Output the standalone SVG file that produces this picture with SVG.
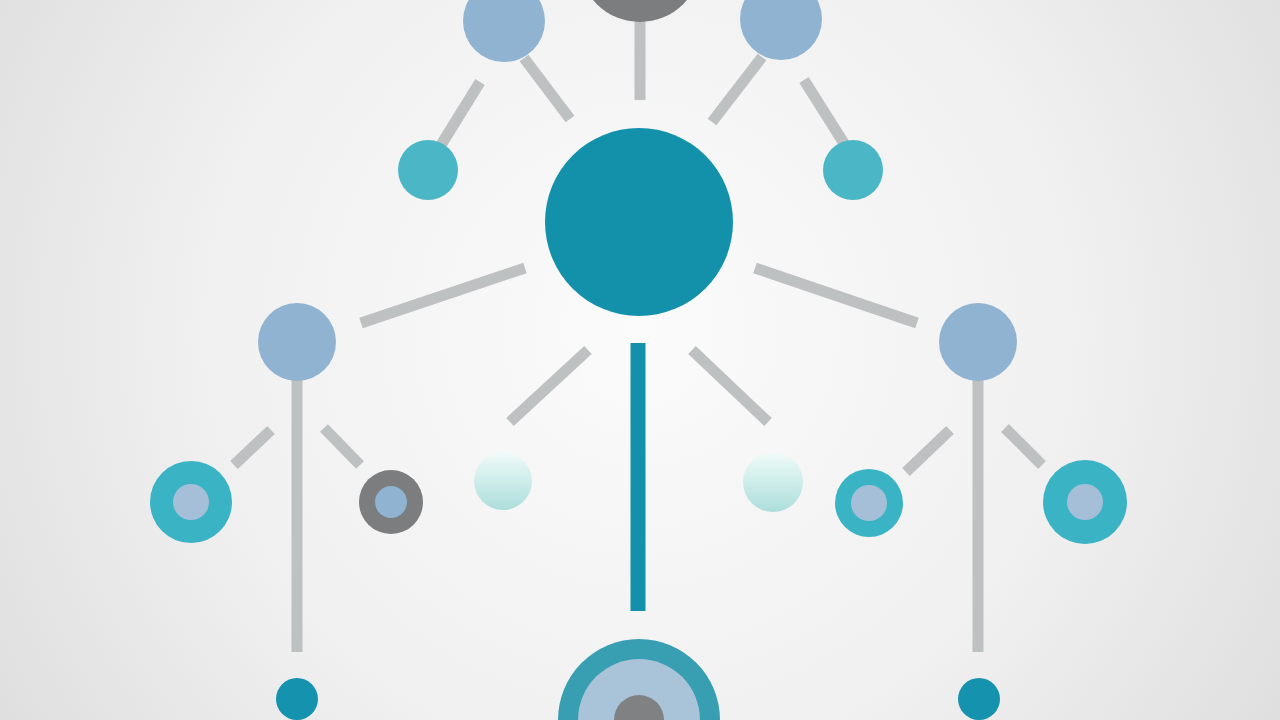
<svg xmlns="http://www.w3.org/2000/svg" width="1280" height="720" viewBox="0 0 1280 720">
  <defs>
    <radialGradient id="bg" cx="640" cy="330" r="800" gradientUnits="userSpaceOnUse">
      <stop offset="0" stop-color="#fbfbfb"/>
      <stop offset="0.55" stop-color="#f0f0f0"/>
      <stop offset="1" stop-color="#dcdcdc"/>
    </radialGradient>
    <linearGradient id="fade" x1="0" y1="0" x2="0" y2="1">
      <stop offset="0" stop-color="#f0fbf9"/>
      <stop offset="1" stop-color="#acdedb"/>
    </linearGradient>
    <style>
      .conn { stroke: #bdc1c2; stroke-width: 11; fill: none; }
      .teal-line { stroke: #1391ab; stroke-width: 15; fill: none; }
      .hub { fill: #1391ab; }
      .blue { fill: #8fb3d0; }
      .grey { fill: #7b7d7f; }
      .leaf { fill: #4bb7c6; }
      .ring { fill: #3ab4c4; }
      .inner { fill: #a6bfd8; }
      .dot { fill: #1592ad; }
    </style>
  </defs>
  <rect width="1280" height="720" fill="url(#bg)"/>

  <g id="connectors">
    <line class="conn" x1="640" y1="20" x2="640" y2="100"/>
    <line class="conn" x1="524" y1="58" x2="570" y2="119"/>
    <line class="conn" x1="480" y1="82" x2="441" y2="145"/>
    <line class="conn" x1="762" y1="57" x2="712" y2="122"/>
    <line class="conn" x1="804" y1="80" x2="845" y2="145"/>
    <line class="conn" x1="525" y1="268" x2="361" y2="323"/>
    <line class="conn" x1="755" y1="268" x2="917" y2="323"/>
    <line class="conn" x1="588" y1="350" x2="510" y2="422"/>
    <line class="conn" x1="692" y1="350" x2="768" y2="422"/>
    <line class="teal-line" x1="638" y1="343" x2="638" y2="611"/>
    <line class="conn" x1="297" y1="378" x2="297" y2="652"/>
    <line class="conn" x1="978" y1="378" x2="978" y2="652"/>
    <line class="conn" x1="271" y1="430" x2="234" y2="465"/>
    <line class="conn" x1="324" y1="428" x2="360" y2="465"/>
    <line class="conn" x1="950" y1="430" x2="906" y2="472"/>
    <line class="conn" x1="1005" y1="428" x2="1042" y2="465"/>
  </g>

  <g id="node-top"><circle class="grey" cx="640" cy="-39" r="61"/></g>
  <g id="node-top-left"><circle class="blue" cx="504" cy="21" r="41"/></g>
  <g id="node-top-right"><circle class="blue" cx="781" cy="19" r="41"/></g>
  <g id="node-leaf-tl"><circle class="leaf" cx="428" cy="170" r="30"/></g>
  <g id="node-leaf-tr"><circle class="leaf" cx="853" cy="170" r="30"/></g>
  <g id="node-hub"><circle class="hub" cx="639" cy="222" r="94"/></g>
  <g id="node-mid-left"><circle class="blue" cx="297" cy="342" r="39"/></g>
  <g id="node-mid-right"><circle class="blue" cx="978" cy="342" r="39"/></g>
  <g id="node-fade-left"><circle fill="url(#fade)" cx="503" cy="481" r="29"/></g>
  <g id="node-fade-right"><circle fill="url(#fade)" cx="773" cy="482" r="30"/></g>
  <g id="node-outer-left">
    <circle class="ring" cx="191" cy="502" r="41"/>
    <circle class="inner" cx="191" cy="502" r="18"/>
  </g>
  <g id="node-grey-left">
    <circle class="grey" cx="391" cy="502" r="32"/>
    <circle fill="#8fb3d0" cx="391" cy="502" r="16"/>
  </g>
  <g id="node-inner-right">
    <circle class="ring" cx="869" cy="503" r="34"/>
    <circle class="inner" cx="869" cy="503" r="18"/>
  </g>
  <g id="node-outer-right">
    <circle class="ring" cx="1085" cy="502" r="42"/>
    <circle class="inner" cx="1085" cy="502" r="18"/>
  </g>
  <g id="node-dot-left"><circle class="dot" cx="297" cy="699" r="21"/></g>
  <g id="node-dot-right"><circle class="dot" cx="979" cy="699" r="21"/></g>
  <g id="node-bottom">
    <circle fill="#379fb1" cx="639" cy="720" r="81"/>
    <circle fill="#a9c3d9" cx="639" cy="720" r="61"/>
    <circle fill="#7f8183" cx="639" cy="720" r="25"/>
  </g>
</svg>
